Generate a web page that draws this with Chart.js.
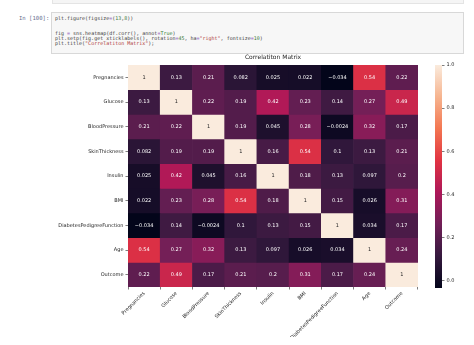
<!DOCTYPE html>
<html>
<head>
<meta charset="utf-8">
<script src="https://cdn.jsdelivr.net/npm/chart.js@4.4.1/dist/chart.umd.min.js"></script>
<style>
  html, body { margin: 0; padding: 0; background: #fff; }
  #page { position: relative; width: 474px; height: 345px; overflow: hidden; background: #fff; }
  .prev { position: absolute; left: 52px; top: 0; width: 410px; height: 3px; background: #f5f5f5; border: 1px solid #e4e4e4; border-top: none; }
  .prompt { position: absolute; left: 19px; top: 15px; font: 5.6px/6px "DejaVu Sans Mono", monospace; color: #67708f; white-space: pre; }
  .cell { position: absolute; left: 51px; top: 12px; width: 411px; height: 40px; background: #f7f7f7; border: 1px solid #d8d8d8; }
  .cell pre { position: absolute; left: 3px; top: 3px; margin: 0; font: 5px/5px "DejaVu Sans Mono", monospace; color: #3a3a3a; }
  .s { color: #b03a3a; }
  .k { color: #2f7d2f; }
  .n { color: #3a7a3a; }
  .o { color: #8a4fb8; }
  canvas { position: absolute; top: 0; }
  #heat { left: 0; }
  #cbar { left: 430px; }
</style>
</head>
<body>
<div id="page">
  <div class="prev"></div>
  <div class="prompt">In [100]:</div>
  <div class="cell"><pre>plt.figure(figsize<span class="o">=</span>(<span class="n">13</span>,<span class="n">8</span>))


fig <span class="o">=</span> sns.heatmap(df.corr(), annot<span class="o">=</span><span class="k">True</span>)
plt.setp(fig.get_xticklabels(), rotation<span class="o">=</span><span class="n">45</span>, ha<span class="o">=</span><span class="s">"right"</span>, fontsize<span class="o">=</span><span class="n">10</span>)
plt.title(<span class="s">"Correlatiton Matrix"</span>);</pre></div>
  <canvas id="heat" width="474" height="345"></canvas>
  <canvas id="cbar" width="44" height="345"></canvas>
</div>
<script>
// Feature names (rows and columns of the correlation matrix)
const features = ['Pregnancies', 'Glucose', 'BloodPressure', 'SkinThickness', 'Insulin',
                  'BMI', 'DiabetesPedigreeFunction', 'Age', 'Outcome'];

// Correlation rows, one per feature
const pregnancies   = [1, 0.13, 0.21, 0.082, 0.025, 0.022, -0.034, 0.54, 0.22];
const glucose       = [0.13, 1, 0.22, 0.19, 0.42, 0.23, 0.14, 0.27, 0.49];
const bloodPressure = [0.21, 0.22, 1, 0.19, 0.045, 0.28, -0.0024, 0.32, 0.17];
const skinThickness = [0.082, 0.19, 0.19, 1, 0.16, 0.54, 0.1, 0.13, 0.21];
const insulin       = [0.025, 0.42, 0.045, 0.16, 1, 0.18, 0.13, 0.097, 0.2];
const bmi           = [0.022, 0.23, 0.28, 0.54, 0.18, 1, 0.15, 0.026, 0.31];
const pedigree      = [-0.034, 0.14, -0.0024, 0.1, 0.13, 0.15, 1, 0.034, 0.17];
const age           = [0.54, 0.27, 0.32, 0.13, 0.097, 0.026, 0.034, 1, 0.24];
const outcome       = [0.22, 0.49, 0.17, 0.21, 0.2, 0.31, 0.17, 0.24, 1];

const corr = [pregnancies, glucose, bloodPressure, skinThickness, insulin, bmi, pedigree, age, outcome];

// Colour bar tick values
const colorbarTicks = [0.0, 0.2, 0.4, 0.6, 0.8, 1.0];

// "rocket" colour map stops
const ROCKET = [
  [0 / 7, [3, 5, 26]],
  [1 / 7, [53, 25, 62]],
  [2 / 7, [112, 31, 87]],
  [3 / 7, [173, 23, 89]],
  [4 / 7, [225, 51, 66]],
  [5 / 7, [243, 118, 81]],
  [6 / 7, [246, 180, 143]],
  [7 / 7, [250, 235, 221]]
];

const vmin = Math.min(...corr.flat());
const vmax = Math.max(...corr.flat());

function rocketRGB(t) {
  t = Math.max(0, Math.min(1, t));
  for (let k = 1; k < ROCKET.length; k++) {
    const [p1, c1] = ROCKET[k];
    const [p0, c0] = ROCKET[k - 1];
    if (t <= p1) {
      const f = (t - p0) / (p1 - p0);
      return c0.map((c, i) => Math.round(c + (c1[i] - c) * f));
    }
  }
  return ROCKET[ROCKET.length - 1][1];
}
const rgbStr = c => `rgb(${c[0]},${c[1]},${c[2]})`;
const norm = v => (v - vmin) / (vmax - vmin);

function luminance(c) {
  const lin = c.map(x => { x /= 255; return x <= 0.03928 ? x / 12.92 : Math.pow((x + 0.055) / 1.055, 2.4); });
  return 0.2126 * lin[0] + 0.7152 * lin[1] + 0.0722 * lin[2];
}

// two significant digits, like "%.2g"
function fmt(v) {
  return Number(v.toPrecision(2)).toString().replace('-', '\u2212');
}

const FONT = 'DejaVu Sans';
const INK = '#262626';

// cell value labels
const annotate = {
  id: 'annotate',
  afterDatasetsDraw(chart) {
    const ctx = chart.ctx;
    ctx.save();
    ctx.font = `5px "${FONT}"`;
    ctx.textAlign = 'center';
    ctx.textBaseline = 'middle';
    corr.forEach((row, i) => {
      const meta = chart.getDatasetMeta(i);
      meta.data.forEach((bar, j) => {
        const c = rocketRGB(norm(row[j]));
        ctx.fillStyle = luminance(c) > 0.408 ? INK : '#ffffff';
        ctx.fillText(fmt(row[j]), bar.x, (bar.y + bar.base) / 2);
      });
    });
    ctx.restore();
  }
};

const tickFont = { family: FONT, size: 5 };

new Chart(document.getElementById('heat'), {
  type: 'bar',
  data: {
    labels: features,
    // each row is one stacked dataset; every cell is one unit tall
    datasets: corr.map((row, i) => ({
      label: features[i],
      data: row.map(() => 1),
      backgroundColor: row.map(v => rgbStr(rocketRGB(norm(v)))),
      borderWidth: 0,
      barPercentage: 1,
      categoryPercentage: 1
    }))
  },
  options: {
    responsive: false,
    animation: false,
    devicePixelRatio: 1,
    layout: { padding: { left: 53, right: 56, top: 53.8, bottom: 8 } },
    plugins: {
      legend: { display: false },
      tooltip: { enabled: false },
      title: {
        display: true,
        text: 'Correlatiton Matrix',
        fullSize: false,
        color: INK,
        font: { family: FONT, size: 6, weight: 'normal' },
        padding: { top: 0, bottom: 4 }
      }
    },
    scales: {
      x: {
        stacked: true,
        afterFit(s) { s.height = 50; },
        ticks: { minRotation: 45, maxRotation: 45, autoSkip: false, font: tickFont, color: INK, padding: 1 },
        grid: { drawOnChartArea: false, drawTicks: true, tickLength: 2.5, tickColor: INK, tickWidth: 0.6 },
        border: { display: false }
      },
      y: {
        type: 'linear',
        stacked: true,
        reverse: true,
        min: 0,
        max: features.length,
        afterBuildTicks(s) { s.ticks = features.map((_, i) => ({ value: i + 0.5 })); },
        afterFit(s) { s.width = 75; },
        ticks: { autoSkip: false, callback: (v, i) => features[i], font: tickFont, color: INK, padding: 2 },
        grid: { drawOnChartArea: false, drawTicks: true, tickLength: 2.5, tickColor: INK, tickWidth: 0.6 },
        border: { display: false }
      }
    }
  },
  plugins: [annotate]
});

// colour bar
new Chart(document.getElementById('cbar'), {
  type: 'bar',
  data: {
    labels: [''],
    datasets: [{
      data: [[vmin, vmax]],
      backgroundColor(ctx) {
        const a = ctx.chart.chartArea;
        if (!a) return rgbStr(rocketRGB(0.5));
        const g = ctx.chart.ctx.createLinearGradient(0, a.bottom, 0, a.top);
        ROCKET.forEach(([p, c]) => g.addColorStop(p, rgbStr(c)));
        return g;
      },
      borderWidth: 0,
      barPercentage: 1,
      categoryPercentage: 1
    }]
  },
  options: {
    responsive: false,
    animation: false,
    devicePixelRatio: 1,
    layout: { padding: { left: 5, right: 0, top: 65, bottom: 57 } },
    plugins: { legend: { display: false }, tooltip: { enabled: false } },
    scales: {
      x: { display: false },
      y: {
        position: 'right',
        min: vmin,
        max: vmax,
        afterBuildTicks(s) { s.ticks = colorbarTicks.map(v => ({ value: v })); },
        afterFit(s) { s.width = 32; },
        ticks: { callback: v => v.toFixed(1), font: tickFont, color: INK, padding: 2 },
        grid: { drawOnChartArea: false, drawTicks: true, tickLength: 2.5, tickColor: INK, tickWidth: 0.6 },
        border: { display: false }
      }
    }
  }
});
</script>
</body>
</html>
